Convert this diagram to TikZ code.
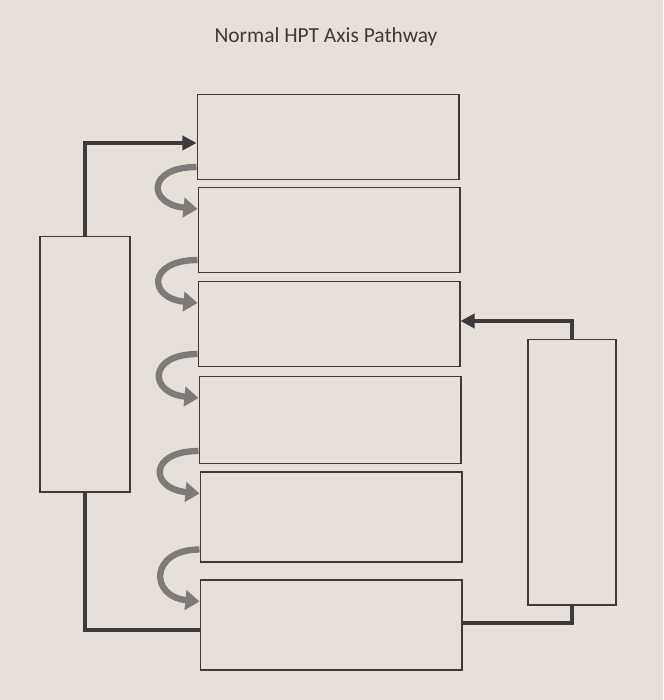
\documentclass[tikz,border=0pt]{standalone}
\usepackage{fontspec}
\setsansfont{Carlito}
\usepackage{tikz}
\usetikzlibrary{arrows.meta, calc}

\definecolor{paper}{RGB}{231,224,217}
\definecolor{ink}{RGB}{62,58,58}
\definecolor{loopgray}{RGB}{126,122,120}

\begin{document}
\begin{tikzpicture}[x=0.02cm, y=-0.02cm,
	box/.style = {draw=ink, line width=0.6pt, minimum width=5.24cm, minimum height=1.7cm},
	tallbox/.style = {draw=ink, line width=0.6pt, minimum width=1.8cm},
	feedback/.style = {draw=ink, line width=2.1pt},
	loop/.style = {draw=loopgray, line width=3.6pt, -{Triangle[length=8pt, width=11pt]}}]

\fill[paper] (0, 0) rectangle (663, 700);
\useasboundingbox (0, 0) rectangle (663, 700);

\node[font=\sffamily\fontsize{12.2}{14}\selectfont, text=ink] (title) at (326, 37) {Normal HPT Axis Pathway};

\node[box] (b1) at (328, 137) {};
\node[box] (b2) at (329, 230) {};
\node[box] (b3) at (329, 324) {};
\node[box, minimum height=1.74cm] (b4) at (330, 420) {};
\node[box, minimum height=1.8cm] (b5) at (331, 517) {};
\node[box, minimum height=1.8cm] (b6) at (331, 625) {};

\node[tallbox, minimum height=5.12cm] (lbox) at (85, 364) {};
\node[tallbox, minimum height=5.32cm, minimum width=1.76cm] (rbox) at (572, 472) {};

% feedback lines
\draw[feedback, -{Triangle[length=8pt, width=8pt]}] (lbox.north) |- ([yshift=-0.12cm]b1.west);
\draw[feedback] (lbox.south) |- ([yshift=-0.1cm]b6.west);
\draw[feedback] ([yshift=0.04cm]b6.east) -| (rbox.south);
\draw[feedback, -{Triangle[length=8pt, width=8pt]}] (rbox.north) |- ([yshift=0.06cm]b3.east);

% curved arrows
\foreach \a/\b in {b1/b2, b2/b3, b3/b4, b4/b5, b5/b6}
	\draw[loop] ([yshift=0.26cm]\a.south west) .. controls +(-1cm, 0) and +(-1cm, 0.1cm) ..
		([yshift=-0.44cm]\b.north west);

\end{tikzpicture}
\end{document}
